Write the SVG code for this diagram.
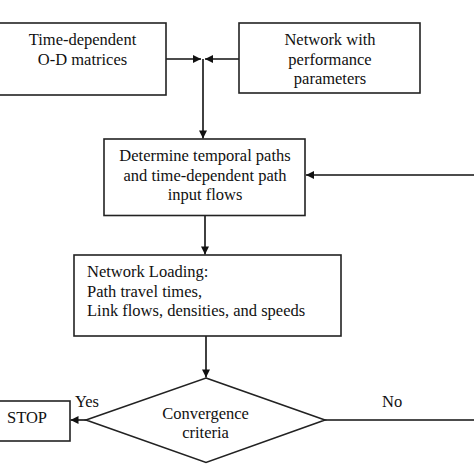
<svg xmlns="http://www.w3.org/2000/svg" width="474" height="474" viewBox="0 0 474 474">
<style>
.box{fill:#fff;stroke:#222;stroke-width:1.6}
.ln{fill:none;stroke:#111;stroke-width:1.6}
text{font-family:"Liberation Serif","Times New Roman",serif;font-size:16.5px;fill:#111}
.c{text-anchor:middle}
</style>
<defs>
<marker id="ah" viewBox="0 0 10 10" refX="10" refY="5" markerWidth="10" markerHeight="8" markerUnits="userSpaceOnUse" orient="auto">
<path d="M0,0 L10,5 L0,10 z" fill="#111"/>
</marker>
</defs>
<rect width="474" height="474" fill="#fff"/>
<g id="connectors">
<path class="ln" d="M166,59 H201" marker-end="url(#ah)"/>
<path class="ln" d="M239,59 H205" marker-end="url(#ah)"/>
<path class="ln" d="M203,59 V138.5" marker-end="url(#ah)"/>
<path class="ln" d="M474,175 H306" marker-end="url(#ah)"/>
<path class="ln" d="M205,215.5 V254.5" marker-end="url(#ah)"/>
<path class="ln" d="M206,336 V377.5" marker-end="url(#ah)"/>
<path class="ln" d="M86,420 H70.5" marker-end="url(#ah)"/>
<path class="ln" d="M325,420 H474"/>
<text x="75" y="407">Yes</text>
<text x="382" y="407">No</text>
</g>
<g id="od">
<rect class="box" x="-2" y="23" width="168" height="72"/>
<text class="c" x="82.5" y="45">Time-dependent</text>
<text class="c" x="82.5" y="65">O-D matrices</text>
</g>
<g id="network">
<rect class="box" x="239" y="23" width="181" height="70"/>
<text class="c" x="330" y="45">Network with</text>
<text class="c" x="330" y="64.5">performance</text>
<text class="c" x="330" y="84">parameters</text>
</g>
<g id="determine">
<rect class="box" x="104" y="139" width="201" height="76.5"/>
<text class="c" x="205" y="160.5">Determine temporal paths</text>
<text class="c" x="205" y="180.5">and time-dependent path</text>
<text class="c" x="205" y="200">input flows</text>
</g>
<g id="loading">
<rect class="box" x="74" y="255" width="267" height="81"/>
<text x="87" y="277">Network Loading:</text>
<text x="87" y="296.5">Path travel times,</text>
<text x="87" y="316">Link flows, densities, and speeds</text>
</g>
<g id="convergence">
<path class="box" d="M206,378 L325,420 L206,462.5 L86,420 Z"/>
<text class="c" x="205.5" y="419">Convergence</text>
<text class="c" x="205.5" y="438">criteria</text>
</g>
<g id="stop">
<rect class="box" x="-2" y="401" width="72" height="40"/>
<text x="7" y="423">STOP</text>
</g>
</svg>
